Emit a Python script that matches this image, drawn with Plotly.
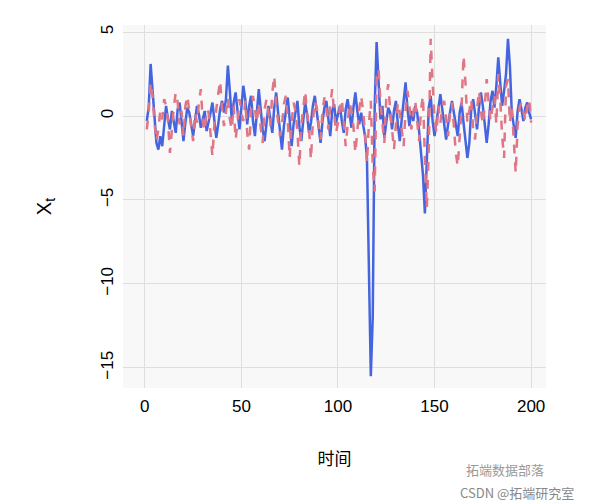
import plotly.graph_objects as go

t = list(range(1, 201))

blue = [-0.3, 0.5, 3.1, 1.5, 0.2, -1.6, -2.0, -1.2, -1.8, -0.5, 0.6, -0.2, -0.8, 0.3, -0.5, -1.0, 0.4, 0.8, -0.3, -1.5,
        -0.4, 0.5, 0.2, -0.6, -1.2, -0.3, 0.6, 0.1, -0.7, -0.2, 0.3, -0.9, -0.4, 0.2, 0.8, -0.3, -1.3, -0.5, 0.4, 0.9,
        0.2, 1.0, 3.0, 1.5, -0.2, 0.8, 1.4, 0.3, -0.8, 0.5, 1.8, 1.0, -0.5, 0.6, 1.2, -0.3, -1.2, 0.2, 1.6, 0.4,
        -0.8, -1.5, -0.4, 0.6, -0.2, -1.0, 0.5, 1.4, 0.2, -0.9, -2.0, -0.6, 0.4, 1.1, -0.2, -1.8, -0.5, 0.3, 0.9, -0.6,
        -1.5, -0.3, 0.8, 0.1, -1.0, -0.4, 0.6, 1.2, 0.2, -0.8, -1.6, -0.3, 0.5, 0.9, -0.2, -1.2, 0.3, 0.7, -0.4, 0.2,
        0.6, -0.3, -1.0, 0.4, 1.0, 0.1, -0.7, 0.5, 1.4, 0.3, -0.5, 0.2, -0.6, -1.2, -2.5, -10.5, -15.5, -12.0, 0.5, 4.4,
        2.0, -0.2, 0.6, -1.3, -0.4, 0.5, 0.2, -0.8, 0.3, 0.9, -0.5, -1.5, -0.2, 0.8, 2.0, 0.4, -0.6, 0.3, -0.3, 0.6,
        0.2, -0.9, -2.0, -3.5, -5.8, -3.0, 0.5, 1.2, -0.3, -1.2, -0.4, 0.5, 1.3, 0.4, -0.6, -1.4, -0.5, 0.3, 0.9, 0.2,
        -0.5, -1.2, 0.2, 0.8, -0.4, -1.5, -2.5, -1.6, 0.4, 1.0, 0.2, -0.8, 0.5, 1.4, 0.6, -0.4, -1.6, -0.5, 0.9, 1.5,
        0.5, 1.8, 3.5, 2.0, 0.6, 1.5, 2.5, 4.6, 3.0, 0.2, -0.5, -1.3, 0.3, 1.0, 0.4, -0.3, 0.5, 0.8, 0.2, -0.2]

red = [-0.8, 0.2, 2.0, 1.2, -0.4, -1.5, -0.8, 0.3, -0.2, 1.0, 0.6, -0.3, -2.2, -0.8, 0.5, 1.4, 0.8, -0.5, 0.3, -1.2,
       0.6, 1.2, 0.3, -0.7, -1.5, 0.2, -0.4, 0.8, 1.6, -0.3, -0.9, 0.4, 0.2, -1.0, -2.4, -0.5, 0.6, 1.3, 2.1, 0.4,
       -0.6, 0.3, 1.1, -0.2, -0.8, 0.6, -1.4, -0.4, 1.0, 0.2, -0.3, 0.9, -1.0, -2.0, 0.3, 1.2, 0.5, -0.4, 0.8, -0.7,
       -1.6, 0.4, 1.0, 0.2, -0.6, 1.4, 2.4, 0.6, -0.3, -1.2, -0.5, 0.7, 1.2, -0.2, -2.5, -0.4, 0.8, 0.3, -0.9, -3.0,
       -0.6, 0.4, 1.5, 0.2, -0.7, -2.6, -0.3, 0.9, 0.5, -0.5, -1.4, 0.3, 1.1, 0.4, -0.8, 0.6, 1.6, 0.2, -1.0, -0.4,
       0.5, 1.0, -0.2, -1.8, -0.5, 0.8, 0.3, -0.6, -2.2, -0.8, 0.4, 1.2, 0.3, -1.0, -2.8, -0.5, 0.9, -3.0, -4.5, 2.3,
       2.8, 0.8, -0.4, -1.6, 1.0, 1.9, 0.4, -0.9, -2.0, -0.5, 0.8, 0.2, -1.0, -1.8, 0.3, 1.5, 0.6, -0.8, 0.2, 0.9,
       -0.3, -1.5, 0.4, 1.2, -2.5, -5.5, -2.0, 4.6, 2.0, -0.2, -1.0, 0.6, -0.4, 0.5, 0.9, -0.3, -1.2, 0.2, 0.8, -0.6,
       -2.2, -3.0, -1.0, 0.5, 3.6, 2.0, -0.4, 0.3, 1.0, -0.8, -1.4, 0.4, 1.5, 0.3, -0.5, 0.6, 2.2, 0.8, -0.3, 0.5,
       1.2, -0.5, 2.5, 1.0, -1.2, -2.5, 1.8, 2.2, -0.4, 0.6, -1.5, -3.4, -0.6, 0.5, 0.8, 0.2, -0.3, 0.6, 1.0, -0.4]

fig = go.Figure()
fig.add_trace(go.Scatter(x=t, y=blue, mode="lines",
                         line=dict(color="#4565E0", width=2.5)))
fig.add_trace(go.Scatter(x=t, y=red, mode="lines",
                         line=dict(color="#E07585", width=2.5, dash="dash")))

grid = "#DEDEDE"
fig.update_layout(
    width=593, height=503, showlegend=False,
    paper_bgcolor="white", plot_bgcolor="#F8F8F8",
    margin=dict(l=115, r=55, t=17, b=123),
    font=dict(family="Liberation Sans, Arial", color="black", size=17),
    xaxis=dict(range=[-11.3, 207.7], tickvals=[0, 50, 100, 150, 200],
               gridcolor=grid, zeroline=False, ticks="", ticklabelstandoff=6,
               title=dict(text="时间", font=dict(family="Noto Sans CJK SC", size=17), standoff=38)),
    yaxis=dict(range=[-16.2, 5.42], tickvals=[-15, -10, -5, 0, 5], tickangle=-90,
               gridcolor=grid, zeroline=False, ticks="", ticklabelstandoff=6,
               title=dict(text="X<sub>t</sub>", standoff=40)),
)
fig.add_annotation(text="CSDN @拓端研究室", xref="paper", yref="paper", x=1.07, y=-0.32,
                   showarrow=False, font=dict(family="Noto Sans CJK SC", size=13, color="#888888"))
fig.add_annotation(text="拓端数据部落", xref="paper", yref="paper", x=1.0, y=-0.255,
                   showarrow=False, font=dict(family="Noto Sans CJK SC", size=13, color="#999999"))
fig.write_html("out.html")
